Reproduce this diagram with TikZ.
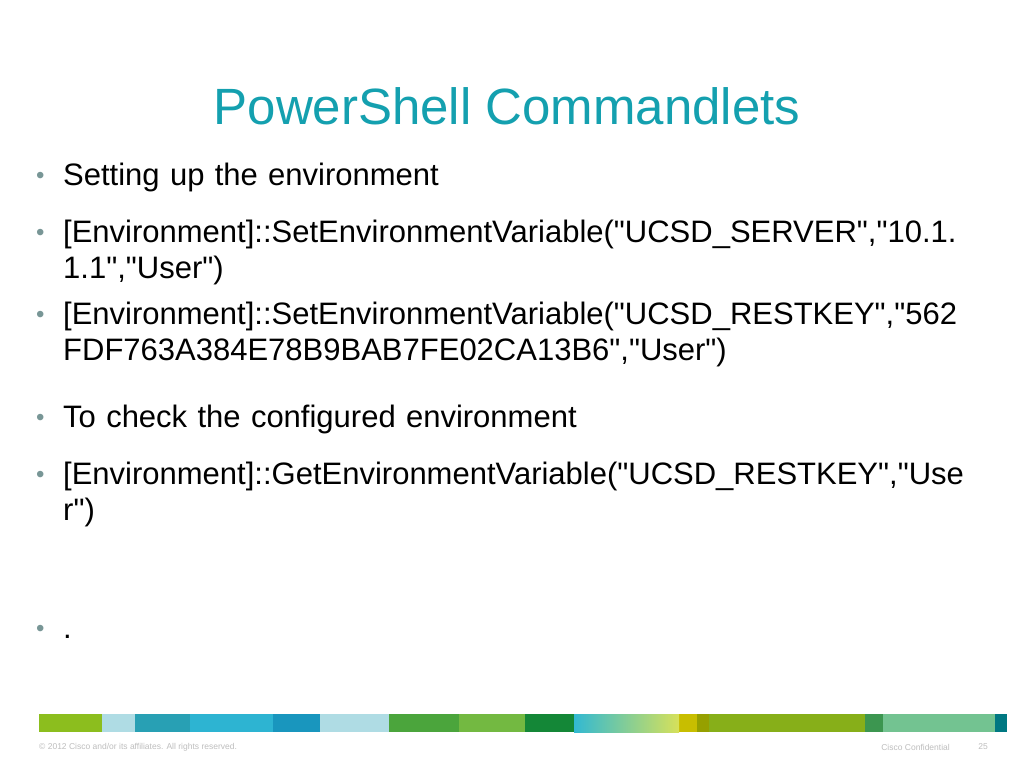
\documentclass[tikz,border=0pt]{standalone}
\usepackage{fontspec}
\setmainfont{Liberation Sans}[Ligatures=TeXOff]
\usetikzlibrary{positioning}
\definecolor{titleteal}{RGB}{20,160,175}
\definecolor{bullgrey}{RGB}{120,150,150}
\definecolor{footgrey}{RGB}{190,190,190}
\newcommand{\q}{\symbol{34}}
\begin{document}
\begin{tikzpicture}[x=1pt,y=-1pt,
    bodytext/.style={anchor=base west, inner sep=0pt, font=\fontsize{31}{36}\selectfont, text width=950pt, align=left},
    bullet/.style={anchor=base west, inner sep=0pt, text=bullgrey, font=\fontsize{24}{28}\selectfont},
    foot/.style={inner sep=0pt, text=footgrey, font=\fontsize{8.5}{10}\selectfont},
    seg/.style={draw=none}]
\useasboundingbox (0,0) rectangle (1024,768);
\fill[white] (0,0) rectangle (1024,768);
\node[anchor=center, text=titleteal, font=\fontsize{51}{56}\selectfont] (title) at (507,106) {PowerShell Commandlets};
% bullets
\foreach \yy/\tx [count=\i] in {
  185/{Setting up the environment},
  242/{[Environment]::SetEnvironmentVariable(\q UCSD\_SERVER\q,\q 10.1.\\1.1\q,\q User\q)},
  324/{[Environment]::SetEnvironmentVariable(\q UCSD\_RESTKEY\q,\q 562\\FDF763A384E78B9BAB7FE02CA13B6\q,\q User\q)},
  427/{To check the configured environment},
  484/{[Environment]::GetEnvironmentVariable(\q UCSD\_RESTKEY\q,\q Use\\r\q)},
  638/{.}}{
  \node[bullet] (dot\i) at (36,\yy-2) {•};
  \node[bodytext] (item\i) at (63,\yy) {\tx};
}
% colour bar
\foreach \xa/\xb/\c in {39/102/{rgb,255:red,140;green,190;blue,30},
  102/135/{rgb,255:red,175;green,220;blue,228},
  135/190/{rgb,255:red,40;green,160;blue,180},
  190/273/{rgb,255:red,45;green,180;blue,210},
  273/320/{rgb,255:red,25;green,150;blue,190},
  320/389/{rgb,255:red,175;green,220;blue,228},
  389/459/{rgb,255:red,75;green,165;blue,60},
  459/525/{rgb,255:red,115;green,185;blue,65},
  525/574/{rgb,255:red,20;green,135;blue,55},
  679/697/{rgb,255:red,200;green,190;blue,0},
  697/709/{rgb,255:red,150;green,160;blue,0},
  709/865/{rgb,255:red,135;green,175;blue,25},
  865/883/{rgb,255:red,60;green,150;blue,80},
  883/995/{rgb,255:red,115;green,195;blue,145},
  995/1007/{rgb,255:red,0;green,120;blue,130}}{
  \fill[seg, fill=\c] (\xa,714) rectangle (\xb,732);
}
\shade[left color={rgb,255:red,50;green,185;blue,210}, right color={rgb,255:red,215;green,225;blue,90}] (574,714) rectangle (679,732);
% footer
\node[foot, anchor=west] (copy) at (39,747) {© 2012 Cisco and/or its affiliates. All rights reserved.};
\node[foot, anchor=east] (page) at (988,747) {25};
\node[foot, anchor=east] (conf) at (950,747) {Cisco Confidential};
\end{tikzpicture}
\end{document}
